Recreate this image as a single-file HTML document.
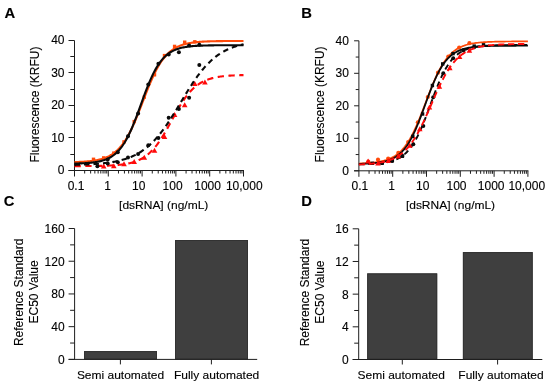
<!DOCTYPE html>
<html><head><meta charset="utf-8"><style>
html,body{margin:0;padding:0;background:#fff;width:550px;height:388px;overflow:hidden}
svg{display:block}
</style></head><body>
<svg width="550" height="388" viewBox="0 0 550 388">
<rect width="550" height="388" fill="#fff"/>
<g font-family='"Liberation Sans", Arial, sans-serif' fill="#000" stroke="#000" stroke-width="0.12">
<text x="4.60" y="18.00" text-anchor="start" font-size="14.8" font-weight="bold" >A</text>
<text x="301.20" y="18.00" text-anchor="start" font-size="14.8" font-weight="bold" >B</text>
<text x="3.80" y="206.30" text-anchor="start" font-size="14.8" font-weight="bold" >C</text>
<text x="301.20" y="205.80" text-anchor="start" font-size="14.8" font-weight="bold" >D</text>
<line x1="74.50" y1="40.50" x2="74.50" y2="170.50" stroke="#1e1e1e" stroke-width="1"/>
<line x1="68.50" y1="170.50" x2="244.00" y2="170.50" stroke="#1e1e1e" stroke-width="1"/>
<line x1="68.50" y1="170.50" x2="74.50" y2="170.50" stroke="#1e1e1e" stroke-width="1"/>
<line x1="70.30" y1="154.50" x2="74.50" y2="154.50" stroke="#1e1e1e" stroke-width="1"/>
<line x1="68.50" y1="137.50" x2="74.50" y2="137.50" stroke="#1e1e1e" stroke-width="1"/>
<line x1="70.30" y1="121.50" x2="74.50" y2="121.50" stroke="#1e1e1e" stroke-width="1"/>
<line x1="68.50" y1="105.50" x2="74.50" y2="105.50" stroke="#1e1e1e" stroke-width="1"/>
<line x1="70.30" y1="89.50" x2="74.50" y2="89.50" stroke="#1e1e1e" stroke-width="1"/>
<line x1="68.50" y1="72.50" x2="74.50" y2="72.50" stroke="#1e1e1e" stroke-width="1"/>
<line x1="70.30" y1="56.50" x2="74.50" y2="56.50" stroke="#1e1e1e" stroke-width="1"/>
<line x1="68.50" y1="40.50" x2="74.50" y2="40.50" stroke="#1e1e1e" stroke-width="1"/>
<line x1="74.50" y1="170.50" x2="74.50" y2="176.50" stroke="#1e1e1e" stroke-width="1"/>
<line x1="84.67" y1="170.50" x2="84.67" y2="173.50" stroke="#1e1e1e" stroke-width="1"/>
<line x1="90.63" y1="170.50" x2="90.63" y2="173.50" stroke="#1e1e1e" stroke-width="1"/>
<line x1="94.85" y1="170.50" x2="94.85" y2="173.50" stroke="#1e1e1e" stroke-width="1"/>
<line x1="98.13" y1="170.50" x2="98.13" y2="173.50" stroke="#1e1e1e" stroke-width="1"/>
<line x1="100.80" y1="170.50" x2="100.80" y2="173.50" stroke="#1e1e1e" stroke-width="1"/>
<line x1="103.06" y1="170.50" x2="103.06" y2="173.50" stroke="#1e1e1e" stroke-width="1"/>
<line x1="105.02" y1="170.50" x2="105.02" y2="173.50" stroke="#1e1e1e" stroke-width="1"/>
<line x1="106.75" y1="170.50" x2="106.75" y2="173.50" stroke="#1e1e1e" stroke-width="1"/>
<line x1="108.30" y1="170.50" x2="108.30" y2="176.50" stroke="#1e1e1e" stroke-width="1"/>
<line x1="118.47" y1="170.50" x2="118.47" y2="173.50" stroke="#1e1e1e" stroke-width="1"/>
<line x1="124.43" y1="170.50" x2="124.43" y2="173.50" stroke="#1e1e1e" stroke-width="1"/>
<line x1="128.65" y1="170.50" x2="128.65" y2="173.50" stroke="#1e1e1e" stroke-width="1"/>
<line x1="131.93" y1="170.50" x2="131.93" y2="173.50" stroke="#1e1e1e" stroke-width="1"/>
<line x1="134.60" y1="170.50" x2="134.60" y2="173.50" stroke="#1e1e1e" stroke-width="1"/>
<line x1="136.86" y1="170.50" x2="136.86" y2="173.50" stroke="#1e1e1e" stroke-width="1"/>
<line x1="138.82" y1="170.50" x2="138.82" y2="173.50" stroke="#1e1e1e" stroke-width="1"/>
<line x1="140.55" y1="170.50" x2="140.55" y2="173.50" stroke="#1e1e1e" stroke-width="1"/>
<line x1="142.10" y1="170.50" x2="142.10" y2="176.50" stroke="#1e1e1e" stroke-width="1"/>
<line x1="152.27" y1="170.50" x2="152.27" y2="173.50" stroke="#1e1e1e" stroke-width="1"/>
<line x1="158.23" y1="170.50" x2="158.23" y2="173.50" stroke="#1e1e1e" stroke-width="1"/>
<line x1="162.45" y1="170.50" x2="162.45" y2="173.50" stroke="#1e1e1e" stroke-width="1"/>
<line x1="165.73" y1="170.50" x2="165.73" y2="173.50" stroke="#1e1e1e" stroke-width="1"/>
<line x1="168.40" y1="170.50" x2="168.40" y2="173.50" stroke="#1e1e1e" stroke-width="1"/>
<line x1="170.66" y1="170.50" x2="170.66" y2="173.50" stroke="#1e1e1e" stroke-width="1"/>
<line x1="172.62" y1="170.50" x2="172.62" y2="173.50" stroke="#1e1e1e" stroke-width="1"/>
<line x1="174.35" y1="170.50" x2="174.35" y2="173.50" stroke="#1e1e1e" stroke-width="1"/>
<line x1="175.90" y1="170.50" x2="175.90" y2="176.50" stroke="#1e1e1e" stroke-width="1"/>
<line x1="186.07" y1="170.50" x2="186.07" y2="173.50" stroke="#1e1e1e" stroke-width="1"/>
<line x1="192.03" y1="170.50" x2="192.03" y2="173.50" stroke="#1e1e1e" stroke-width="1"/>
<line x1="196.25" y1="170.50" x2="196.25" y2="173.50" stroke="#1e1e1e" stroke-width="1"/>
<line x1="199.53" y1="170.50" x2="199.53" y2="173.50" stroke="#1e1e1e" stroke-width="1"/>
<line x1="202.20" y1="170.50" x2="202.20" y2="173.50" stroke="#1e1e1e" stroke-width="1"/>
<line x1="204.46" y1="170.50" x2="204.46" y2="173.50" stroke="#1e1e1e" stroke-width="1"/>
<line x1="206.42" y1="170.50" x2="206.42" y2="173.50" stroke="#1e1e1e" stroke-width="1"/>
<line x1="208.15" y1="170.50" x2="208.15" y2="173.50" stroke="#1e1e1e" stroke-width="1"/>
<line x1="209.70" y1="170.50" x2="209.70" y2="176.50" stroke="#1e1e1e" stroke-width="1"/>
<line x1="219.87" y1="170.50" x2="219.87" y2="173.50" stroke="#1e1e1e" stroke-width="1"/>
<line x1="225.83" y1="170.50" x2="225.83" y2="173.50" stroke="#1e1e1e" stroke-width="1"/>
<line x1="230.05" y1="170.50" x2="230.05" y2="173.50" stroke="#1e1e1e" stroke-width="1"/>
<line x1="233.33" y1="170.50" x2="233.33" y2="173.50" stroke="#1e1e1e" stroke-width="1"/>
<line x1="236.00" y1="170.50" x2="236.00" y2="173.50" stroke="#1e1e1e" stroke-width="1"/>
<line x1="238.26" y1="170.50" x2="238.26" y2="173.50" stroke="#1e1e1e" stroke-width="1"/>
<line x1="240.22" y1="170.50" x2="240.22" y2="173.50" stroke="#1e1e1e" stroke-width="1"/>
<line x1="241.95" y1="170.50" x2="241.95" y2="173.50" stroke="#1e1e1e" stroke-width="1"/>
<line x1="243.50" y1="170.50" x2="243.50" y2="176.50" stroke="#1e1e1e" stroke-width="1"/>
<text x="64.50" y="174.20" text-anchor="end" font-size="12" font-weight="normal" >0</text>
<text x="64.50" y="141.70" text-anchor="end" font-size="12" font-weight="normal" >10</text>
<text x="64.50" y="109.20" text-anchor="end" font-size="12" font-weight="normal" >20</text>
<text x="64.50" y="76.70" text-anchor="end" font-size="12" font-weight="normal" >30</text>
<text x="64.50" y="44.20" text-anchor="end" font-size="12" font-weight="normal" >40</text>
<text x="76.00" y="189.50" text-anchor="middle" font-size="12" font-weight="normal" >0.1</text>
<text x="107.70" y="189.50" text-anchor="middle" font-size="12" font-weight="normal" >1</text>
<text x="138.80" y="189.50" text-anchor="middle" font-size="12" font-weight="normal" >10</text>
<text x="172.60" y="189.50" text-anchor="middle" font-size="12" font-weight="normal" >100</text>
<text x="207.60" y="189.50" text-anchor="middle" font-size="12" font-weight="normal" >1000</text>
<text x="244.30" y="189.50" text-anchor="middle" font-size="12" font-weight="normal" >10,000</text>
<text x="0" y="0" transform="translate(163.70,208.80) scale(1.0526,1)" text-anchor="middle" font-size="11.4" >[dsRNA] (ng/mL)</text>
<text x="0" y="0" text-anchor="middle" font-size="12" transform="translate(39.00,104.60) rotate(-90)">Fluorescence (KRFU)</text>
<line x1="358.90" y1="40.80" x2="358.90" y2="170.80" stroke="#1e1e1e" stroke-width="1"/>
<line x1="354.10" y1="170.80" x2="528.40" y2="170.80" stroke="#1e1e1e" stroke-width="1"/>
<line x1="354.10" y1="170.80" x2="358.90" y2="170.80" stroke="#1e1e1e" stroke-width="1"/>
<line x1="355.70" y1="154.55" x2="358.90" y2="154.55" stroke="#1e1e1e" stroke-width="1"/>
<line x1="354.10" y1="138.30" x2="358.90" y2="138.30" stroke="#1e1e1e" stroke-width="1"/>
<line x1="355.70" y1="122.05" x2="358.90" y2="122.05" stroke="#1e1e1e" stroke-width="1"/>
<line x1="354.10" y1="105.80" x2="358.90" y2="105.80" stroke="#1e1e1e" stroke-width="1"/>
<line x1="355.70" y1="89.55" x2="358.90" y2="89.55" stroke="#1e1e1e" stroke-width="1"/>
<line x1="354.10" y1="73.30" x2="358.90" y2="73.30" stroke="#1e1e1e" stroke-width="1"/>
<line x1="355.70" y1="57.05" x2="358.90" y2="57.05" stroke="#1e1e1e" stroke-width="1"/>
<line x1="354.10" y1="40.80" x2="358.90" y2="40.80" stroke="#1e1e1e" stroke-width="1"/>
<line x1="358.90" y1="170.80" x2="358.90" y2="176.80" stroke="#1e1e1e" stroke-width="1"/>
<line x1="369.07" y1="170.80" x2="369.07" y2="173.80" stroke="#1e1e1e" stroke-width="1"/>
<line x1="375.03" y1="170.80" x2="375.03" y2="173.80" stroke="#1e1e1e" stroke-width="1"/>
<line x1="379.25" y1="170.80" x2="379.25" y2="173.80" stroke="#1e1e1e" stroke-width="1"/>
<line x1="382.53" y1="170.80" x2="382.53" y2="173.80" stroke="#1e1e1e" stroke-width="1"/>
<line x1="385.20" y1="170.80" x2="385.20" y2="173.80" stroke="#1e1e1e" stroke-width="1"/>
<line x1="387.46" y1="170.80" x2="387.46" y2="173.80" stroke="#1e1e1e" stroke-width="1"/>
<line x1="389.42" y1="170.80" x2="389.42" y2="173.80" stroke="#1e1e1e" stroke-width="1"/>
<line x1="391.15" y1="170.80" x2="391.15" y2="173.80" stroke="#1e1e1e" stroke-width="1"/>
<line x1="392.70" y1="170.80" x2="392.70" y2="176.80" stroke="#1e1e1e" stroke-width="1"/>
<line x1="402.87" y1="170.80" x2="402.87" y2="173.80" stroke="#1e1e1e" stroke-width="1"/>
<line x1="408.83" y1="170.80" x2="408.83" y2="173.80" stroke="#1e1e1e" stroke-width="1"/>
<line x1="413.05" y1="170.80" x2="413.05" y2="173.80" stroke="#1e1e1e" stroke-width="1"/>
<line x1="416.33" y1="170.80" x2="416.33" y2="173.80" stroke="#1e1e1e" stroke-width="1"/>
<line x1="419.00" y1="170.80" x2="419.00" y2="173.80" stroke="#1e1e1e" stroke-width="1"/>
<line x1="421.26" y1="170.80" x2="421.26" y2="173.80" stroke="#1e1e1e" stroke-width="1"/>
<line x1="423.22" y1="170.80" x2="423.22" y2="173.80" stroke="#1e1e1e" stroke-width="1"/>
<line x1="424.95" y1="170.80" x2="424.95" y2="173.80" stroke="#1e1e1e" stroke-width="1"/>
<line x1="426.50" y1="170.80" x2="426.50" y2="176.80" stroke="#1e1e1e" stroke-width="1"/>
<line x1="436.67" y1="170.80" x2="436.67" y2="173.80" stroke="#1e1e1e" stroke-width="1"/>
<line x1="442.63" y1="170.80" x2="442.63" y2="173.80" stroke="#1e1e1e" stroke-width="1"/>
<line x1="446.85" y1="170.80" x2="446.85" y2="173.80" stroke="#1e1e1e" stroke-width="1"/>
<line x1="450.13" y1="170.80" x2="450.13" y2="173.80" stroke="#1e1e1e" stroke-width="1"/>
<line x1="452.80" y1="170.80" x2="452.80" y2="173.80" stroke="#1e1e1e" stroke-width="1"/>
<line x1="455.06" y1="170.80" x2="455.06" y2="173.80" stroke="#1e1e1e" stroke-width="1"/>
<line x1="457.02" y1="170.80" x2="457.02" y2="173.80" stroke="#1e1e1e" stroke-width="1"/>
<line x1="458.75" y1="170.80" x2="458.75" y2="173.80" stroke="#1e1e1e" stroke-width="1"/>
<line x1="460.30" y1="170.80" x2="460.30" y2="176.80" stroke="#1e1e1e" stroke-width="1"/>
<line x1="470.47" y1="170.80" x2="470.47" y2="173.80" stroke="#1e1e1e" stroke-width="1"/>
<line x1="476.43" y1="170.80" x2="476.43" y2="173.80" stroke="#1e1e1e" stroke-width="1"/>
<line x1="480.65" y1="170.80" x2="480.65" y2="173.80" stroke="#1e1e1e" stroke-width="1"/>
<line x1="483.93" y1="170.80" x2="483.93" y2="173.80" stroke="#1e1e1e" stroke-width="1"/>
<line x1="486.60" y1="170.80" x2="486.60" y2="173.80" stroke="#1e1e1e" stroke-width="1"/>
<line x1="488.86" y1="170.80" x2="488.86" y2="173.80" stroke="#1e1e1e" stroke-width="1"/>
<line x1="490.82" y1="170.80" x2="490.82" y2="173.80" stroke="#1e1e1e" stroke-width="1"/>
<line x1="492.55" y1="170.80" x2="492.55" y2="173.80" stroke="#1e1e1e" stroke-width="1"/>
<line x1="494.10" y1="170.80" x2="494.10" y2="176.80" stroke="#1e1e1e" stroke-width="1"/>
<line x1="504.27" y1="170.80" x2="504.27" y2="173.80" stroke="#1e1e1e" stroke-width="1"/>
<line x1="510.23" y1="170.80" x2="510.23" y2="173.80" stroke="#1e1e1e" stroke-width="1"/>
<line x1="514.45" y1="170.80" x2="514.45" y2="173.80" stroke="#1e1e1e" stroke-width="1"/>
<line x1="517.73" y1="170.80" x2="517.73" y2="173.80" stroke="#1e1e1e" stroke-width="1"/>
<line x1="520.40" y1="170.80" x2="520.40" y2="173.80" stroke="#1e1e1e" stroke-width="1"/>
<line x1="522.66" y1="170.80" x2="522.66" y2="173.80" stroke="#1e1e1e" stroke-width="1"/>
<line x1="524.62" y1="170.80" x2="524.62" y2="173.80" stroke="#1e1e1e" stroke-width="1"/>
<line x1="526.35" y1="170.80" x2="526.35" y2="173.80" stroke="#1e1e1e" stroke-width="1"/>
<line x1="527.90" y1="170.80" x2="527.90" y2="176.80" stroke="#1e1e1e" stroke-width="1"/>
<text x="348.90" y="174.50" text-anchor="end" font-size="12" font-weight="normal" >0</text>
<text x="348.90" y="142.00" text-anchor="end" font-size="12" font-weight="normal" >10</text>
<text x="348.90" y="109.50" text-anchor="end" font-size="12" font-weight="normal" >20</text>
<text x="348.90" y="77.00" text-anchor="end" font-size="12" font-weight="normal" >30</text>
<text x="348.90" y="44.50" text-anchor="end" font-size="12" font-weight="normal" >40</text>
<text x="359.80" y="189.80" text-anchor="middle" font-size="12" font-weight="normal" >0.1</text>
<text x="391.60" y="189.80" text-anchor="middle" font-size="12" font-weight="normal" >1</text>
<text x="422.80" y="189.80" text-anchor="middle" font-size="12" font-weight="normal" >10</text>
<text x="456.50" y="189.80" text-anchor="middle" font-size="12" font-weight="normal" >100</text>
<text x="491.20" y="189.80" text-anchor="middle" font-size="12" font-weight="normal" >1000</text>
<text x="526.80" y="189.80" text-anchor="middle" font-size="12" font-weight="normal" >10,000</text>
<text x="0" y="0" transform="translate(450.50,209.10) scale(1.0526,1)" text-anchor="middle" font-size="11.4" >[dsRNA] (ng/mL)</text>
<text x="0" y="0" text-anchor="middle" font-size="12" transform="translate(324.20,104.40) rotate(-90)">Fluorescence (KRFU)</text>
<rect x="84.00" y="351.10" width="73.00" height="8.30" fill="#3f3f3f" stroke="none"/>
<rect x="84.50" y="351.60" width="72.00" height="7.30" fill="none" stroke="#323232" stroke-width="1"/>
<rect x="175.00" y="240.00" width="73.00" height="119.40" fill="#3f3f3f" stroke="none"/>
<rect x="175.50" y="240.50" width="72.00" height="118.40" fill="none" stroke="#323232" stroke-width="1"/>
<line x1="74.60" y1="228.50" x2="74.60" y2="359.40" stroke="#1e1e1e" stroke-width="1"/>
<line x1="68.60" y1="359.40" x2="257.20" y2="359.40" stroke="#1e1e1e" stroke-width="1"/>
<line x1="68.60" y1="359.40" x2="74.60" y2="359.40" stroke="#1e1e1e" stroke-width="1"/>
<text x="64.60" y="363.90" text-anchor="end" font-size="12" font-weight="normal" >0</text>
<line x1="70.10" y1="343.04" x2="74.60" y2="343.04" stroke="#1e1e1e" stroke-width="1"/>
<line x1="68.60" y1="326.67" x2="74.60" y2="326.67" stroke="#1e1e1e" stroke-width="1"/>
<text x="64.60" y="331.17" text-anchor="end" font-size="12" font-weight="normal" >40</text>
<line x1="70.10" y1="310.31" x2="74.60" y2="310.31" stroke="#1e1e1e" stroke-width="1"/>
<line x1="68.60" y1="293.95" x2="74.60" y2="293.95" stroke="#1e1e1e" stroke-width="1"/>
<text x="64.60" y="298.45" text-anchor="end" font-size="12" font-weight="normal" >80</text>
<line x1="70.10" y1="277.59" x2="74.60" y2="277.59" stroke="#1e1e1e" stroke-width="1"/>
<line x1="68.60" y1="261.23" x2="74.60" y2="261.23" stroke="#1e1e1e" stroke-width="1"/>
<text x="64.60" y="265.73" text-anchor="end" font-size="12" font-weight="normal" >120</text>
<line x1="70.10" y1="244.86" x2="74.60" y2="244.86" stroke="#1e1e1e" stroke-width="1"/>
<line x1="68.60" y1="228.50" x2="74.60" y2="228.50" stroke="#1e1e1e" stroke-width="1"/>
<text x="64.60" y="233.00" text-anchor="end" font-size="12" font-weight="normal" >160</text>
<line x1="120.40" y1="359.40" x2="120.40" y2="364.40" stroke="#1e1e1e" stroke-width="1"/>
<line x1="211.40" y1="359.40" x2="211.40" y2="364.40" stroke="#1e1e1e" stroke-width="1"/>
<text x="0" y="0" transform="translate(120.50,378.70) scale(1.0526,1)" text-anchor="middle" font-size="11.4" >Semi automated</text>
<text x="0" y="0" transform="translate(216.60,378.70) scale(1.0526,1)" text-anchor="middle" font-size="11.4" >Fully automated</text>
<rect x="367.20" y="273.40" width="70.00" height="86.10" fill="#3f3f3f" stroke="none"/>
<rect x="367.70" y="273.90" width="69.00" height="85.10" fill="none" stroke="#323232" stroke-width="1"/>
<rect x="462.90" y="252.10" width="69.80" height="107.40" fill="#3f3f3f" stroke="none"/>
<rect x="463.40" y="252.60" width="68.80" height="106.40" fill="none" stroke="#323232" stroke-width="1"/>
<line x1="358.70" y1="228.80" x2="358.70" y2="359.50" stroke="#1e1e1e" stroke-width="1"/>
<line x1="352.70" y1="359.50" x2="542.30" y2="359.50" stroke="#1e1e1e" stroke-width="1"/>
<line x1="352.70" y1="359.50" x2="358.70" y2="359.50" stroke="#1e1e1e" stroke-width="1"/>
<text x="348.70" y="364.00" text-anchor="end" font-size="12" font-weight="normal" >0</text>
<line x1="354.20" y1="343.16" x2="358.70" y2="343.16" stroke="#1e1e1e" stroke-width="1"/>
<line x1="352.70" y1="326.82" x2="358.70" y2="326.82" stroke="#1e1e1e" stroke-width="1"/>
<text x="348.70" y="331.32" text-anchor="end" font-size="12" font-weight="normal" >4</text>
<line x1="354.20" y1="310.49" x2="358.70" y2="310.49" stroke="#1e1e1e" stroke-width="1"/>
<line x1="352.70" y1="294.15" x2="358.70" y2="294.15" stroke="#1e1e1e" stroke-width="1"/>
<text x="348.70" y="298.65" text-anchor="end" font-size="12" font-weight="normal" >8</text>
<line x1="354.20" y1="277.81" x2="358.70" y2="277.81" stroke="#1e1e1e" stroke-width="1"/>
<line x1="352.70" y1="261.48" x2="358.70" y2="261.48" stroke="#1e1e1e" stroke-width="1"/>
<text x="348.70" y="265.98" text-anchor="end" font-size="12" font-weight="normal" >12</text>
<line x1="354.20" y1="245.14" x2="358.70" y2="245.14" stroke="#1e1e1e" stroke-width="1"/>
<line x1="352.70" y1="228.80" x2="358.70" y2="228.80" stroke="#1e1e1e" stroke-width="1"/>
<text x="348.70" y="233.30" text-anchor="end" font-size="12" font-weight="normal" >16</text>
<line x1="402.30" y1="359.50" x2="402.30" y2="364.50" stroke="#1e1e1e" stroke-width="1"/>
<line x1="497.60" y1="359.50" x2="497.60" y2="364.50" stroke="#1e1e1e" stroke-width="1"/>
<text x="0" y="0" transform="translate(401.20,378.80) scale(1.0526,1)" text-anchor="middle" font-size="11.4" >Semi automated</text>
<text x="0" y="0" transform="translate(501.00,378.80) scale(1.0526,1)" text-anchor="middle" font-size="11.4" >Fully automated</text>
<text x="0" y="0" text-anchor="middle" font-size="12" transform="translate(23.30,292.40) rotate(-90)">Reference Standard</text>
<text x="0" y="0" text-anchor="middle" font-size="12" transform="translate(38.30,291.90) rotate(-90)">EC50 Value</text>
<text x="0" y="0" text-anchor="middle" font-size="12" transform="translate(309.00,292.60) rotate(-90)">Reference Standard</text>
<text x="0" y="0" text-anchor="middle" font-size="12" transform="translate(323.90,292.10) rotate(-90)">EC50 Value</text>
</g>
<path d="M74.50,162.08 L75.50,162.05 L76.50,162.02 L77.50,161.98 L78.50,161.94 L79.50,161.90 L80.50,161.85 L81.50,161.80 L82.50,161.75 L83.50,161.69 L84.50,161.62 L85.50,161.55 L86.50,161.47 L87.50,161.38 L88.50,161.29 L89.50,161.19 L90.50,161.08 L91.50,160.96 L92.50,160.83 L93.50,160.69 L94.50,160.53 L95.50,160.37 L96.50,160.19 L97.50,159.99 L98.50,159.77 L99.50,159.54 L100.50,159.29 L101.50,159.02 L102.50,158.72 L103.50,158.40 L104.50,158.05 L105.50,157.67 L106.50,157.26 L107.50,156.82 L108.50,156.34 L109.50,155.83 L110.50,155.27 L111.50,154.67 L112.50,154.02 L113.50,153.33 L114.50,152.58 L115.50,151.77 L116.50,150.91 L117.50,149.98 L118.50,148.99 L119.50,147.93 L120.50,146.79 L121.50,145.59 L122.50,144.30 L123.50,142.94 L124.50,141.49 L125.50,139.96 L126.50,138.35 L127.50,136.65 L128.50,134.86 L129.50,132.99 L130.50,131.03 L131.50,128.99 L132.50,126.88 L133.50,124.68 L134.50,122.41 L135.50,120.07 L136.50,117.68 L137.50,115.22 L138.50,112.72 L139.50,110.18 L140.50,107.61 L141.50,105.02 L142.50,102.42 L143.50,99.81 L144.50,97.21 L145.50,94.63 L146.50,92.07 L147.50,89.55 L148.50,87.07 L149.50,84.64 L150.50,82.27 L151.50,79.96 L152.50,77.73 L153.50,75.56 L154.50,73.48 L155.50,71.47 L156.50,69.56 L157.50,67.72 L158.50,65.97 L159.50,64.31 L160.50,62.73 L161.50,61.24 L162.50,59.83 L163.50,58.50 L164.50,57.25 L165.50,56.08 L166.50,54.98 L167.50,53.95 L168.50,52.98 L169.50,52.08 L170.50,51.25 L171.50,50.47 L172.50,49.74 L173.50,49.07 L174.50,48.44 L175.50,47.86 L176.50,47.32 L177.50,46.82 L178.50,46.36 L179.50,45.93 L180.50,45.54 L181.50,45.17 L182.50,44.84 L183.50,44.53 L184.50,44.24 L185.50,43.98 L186.50,43.73 L187.50,43.51 L188.50,43.30 L189.50,43.11 L190.50,42.94 L191.50,42.78 L192.50,42.63 L193.50,42.49 L194.50,42.37 L195.50,42.25 L196.50,42.15 L197.50,42.05 L198.50,41.96 L199.50,41.88 L200.50,41.80 L201.50,41.73 L202.50,41.67 L203.50,41.61 L204.50,41.55 L205.50,41.51 L206.50,41.46 L207.50,41.42 L208.50,41.38 L209.50,41.34 L210.50,41.31 L211.50,41.28 L212.50,41.26 L213.50,41.23 L214.50,41.21 L215.50,41.19 L216.50,41.17 L217.50,41.15 L218.50,41.13 L219.50,41.12 L220.50,41.10 L221.50,41.09 L222.50,41.08 L223.50,41.07 L224.50,41.06 L225.50,41.05 L226.50,41.04 L227.50,41.03 L228.50,41.03 L229.50,41.02 L230.50,41.02 L231.50,41.01 L232.50,41.00 L233.50,41.00 L234.50,41.00 L235.50,40.99 L236.50,40.99 L237.50,40.99 L238.50,40.98 L239.50,40.98 L240.50,40.98 L241.50,40.98 L242.50,40.97 L243.50,40.97" fill="none" stroke="#ff4a0a" stroke-width="2.1"/>
<rect x="91.80" y="157.60" width="3.4" height="3.4" fill="#ff4a0a"/>
<rect x="102.00" y="156.20" width="3.4" height="3.4" fill="#ff4a0a"/>
<rect x="112.10" y="151.41" width="3.4" height="3.4" fill="#ff4a0a"/>
<rect x="122.30" y="140.20" width="3.4" height="3.4" fill="#ff4a0a"/>
<rect x="132.50" y="119.90" width="3.4" height="3.4" fill="#ff4a0a"/>
<rect x="142.60" y="95.40" width="3.4" height="3.4" fill="#ff4a0a"/>
<rect x="152.80" y="73.10" width="3.4" height="3.4" fill="#ff4a0a"/>
<rect x="162.80" y="53.90" width="3.4" height="3.4" fill="#ff4a0a"/>
<rect x="172.90" y="44.70" width="3.4" height="3.4" fill="#ff4a0a"/>
<rect x="183.00" y="40.50" width="3.4" height="3.4" fill="#ff4a0a"/>
<rect x="193.10" y="40.10" width="3.4" height="3.4" fill="#ff4a0a"/>
<path d="M74.50,163.56 L75.50,163.54 L76.50,163.51 L77.50,163.48 L78.50,163.45 L79.50,163.42 L80.50,163.38 L81.50,163.34 L82.50,163.29 L83.50,163.24 L84.50,163.19 L85.50,163.13 L86.50,163.06 L87.50,162.99 L88.50,162.92 L89.50,162.83 L90.50,162.74 L91.50,162.63 L92.50,162.52 L93.50,162.40 L94.50,162.26 L95.50,162.11 L96.50,161.95 L97.50,161.77 L98.50,161.58 L99.50,161.36 L100.50,161.13 L101.50,160.87 L102.50,160.60 L103.50,160.29 L104.50,159.96 L105.50,159.60 L106.50,159.20 L107.50,158.77 L108.50,158.30 L109.50,157.79 L110.50,157.24 L111.50,156.63 L112.50,155.98 L113.50,155.27 L114.50,154.50 L115.50,153.67 L116.50,152.77 L117.50,151.80 L118.50,150.75 L119.50,149.63 L120.50,148.42 L121.50,147.13 L122.50,145.75 L123.50,144.27 L124.50,142.70 L125.50,141.03 L126.50,139.27 L127.50,137.40 L128.50,135.44 L129.50,133.37 L130.50,131.21 L131.50,128.96 L132.50,126.62 L133.50,124.20 L134.50,121.70 L135.50,119.13 L136.50,116.51 L137.50,113.83 L138.50,111.11 L139.50,108.37 L140.50,105.61 L141.50,102.84 L142.50,100.08 L143.50,97.34 L144.50,94.63 L145.50,91.96 L146.50,89.35 L147.50,86.79 L148.50,84.31 L149.50,81.90 L150.50,79.58 L151.50,77.35 L152.50,75.21 L153.50,73.16 L154.50,71.22 L155.50,69.37 L156.50,67.63 L157.50,65.98 L158.50,64.43 L159.50,62.97 L160.50,61.61 L161.50,60.33 L162.50,59.14 L163.50,58.03 L164.50,57.00 L165.50,56.05 L166.50,55.16 L167.50,54.34 L168.50,53.59 L169.50,52.89 L170.50,52.24 L171.50,51.65 L172.50,51.10 L173.50,50.60 L174.50,50.14 L175.50,49.72 L176.50,49.33 L177.50,48.97 L178.50,48.65 L179.50,48.35 L180.50,48.07 L181.50,47.82 L182.50,47.59 L183.50,47.38 L184.50,47.19 L185.50,47.02 L186.50,46.86 L187.50,46.71 L188.50,46.58 L189.50,46.46 L190.50,46.35 L191.50,46.25 L192.50,46.15 L193.50,46.07 L194.50,45.99 L195.50,45.92 L196.50,45.86 L197.50,45.80 L198.50,45.75 L199.50,45.70 L200.50,45.65 L201.50,45.61 L202.50,45.58 L203.50,45.54 L204.50,45.51 L205.50,45.48 L206.50,45.46 L207.50,45.44 L208.50,45.42 L209.50,45.40 L210.50,45.38 L211.50,45.36 L212.50,45.35 L213.50,45.34 L214.50,45.32 L215.50,45.31 L216.50,45.30 L217.50,45.29 L218.50,45.28 L219.50,45.28 L220.50,45.27 L221.50,45.26 L222.50,45.26 L223.50,45.25 L224.50,45.25 L225.50,45.24 L226.50,45.24 L227.50,45.24 L228.50,45.23 L229.50,45.23 L230.50,45.23 L231.50,45.23 L232.50,45.22 L233.50,45.22 L234.50,45.22 L235.50,45.22 L236.50,45.22 L237.50,45.21 L238.50,45.21 L239.50,45.21 L240.50,45.21 L241.50,45.21 L242.50,45.21 L243.50,45.21" fill="none" stroke="#0a0a0a" stroke-width="2.1"/>
<circle cx="107.70" cy="159.60" r="2.0" fill="#0a0a0a"/>
<circle cx="117.80" cy="152.30" r="2.0" fill="#0a0a0a"/>
<circle cx="128.00" cy="136.30" r="2.0" fill="#0a0a0a"/>
<circle cx="138.10" cy="113.40" r="2.0" fill="#0a0a0a"/>
<circle cx="148.30" cy="84.50" r="2.0" fill="#0a0a0a"/>
<circle cx="158.40" cy="63.70" r="2.0" fill="#0a0a0a"/>
<circle cx="168.70" cy="54.50" r="2.0" fill="#0a0a0a"/>
<circle cx="178.90" cy="52.20" r="2.0" fill="#0a0a0a"/>
<circle cx="189.10" cy="45.50" r="2.0" fill="#0a0a0a"/>
<circle cx="199.30" cy="44.80" r="2.0" fill="#0a0a0a"/>
<path d="M74.50,166.11 L75.50,166.11 L76.50,166.11 L77.50,166.10 L78.50,166.10 L79.50,166.09 L80.50,166.09 L81.50,166.09 L82.50,166.08 L83.50,166.07 L84.50,166.07 L85.50,166.06 L86.50,166.05 L87.50,166.05 L88.50,166.04 L89.50,166.03 L90.50,166.02 L91.50,166.01 L92.50,165.99 L93.50,165.98 L94.50,165.97 L95.50,165.95 L96.50,165.93 L97.50,165.92 L98.50,165.90 L99.50,165.88 L100.50,165.85 L101.50,165.83 L102.50,165.80 L103.50,165.77 L104.50,165.74 L105.50,165.71 L106.50,165.67 L107.50,165.63 L108.50,165.59 L109.50,165.54 L110.50,165.49 L111.50,165.43 L112.50,165.37 L113.50,165.31 L114.50,165.24 L115.50,165.16 L116.50,165.08 L117.50,164.99 L118.50,164.90 L119.50,164.80 L120.50,164.68 L121.50,164.56 L122.50,164.43 L123.50,164.29 L124.50,164.14 L125.50,163.98 L126.50,163.80 L127.50,163.61 L128.50,163.40 L129.50,163.18 L130.50,162.94 L131.50,162.68 L132.50,162.40 L133.50,162.10 L134.50,161.78 L135.50,161.43 L136.50,161.06 L137.50,160.66 L138.50,160.23 L139.50,159.77 L140.50,159.27 L141.50,158.74 L142.50,158.18 L143.50,157.57 L144.50,156.93 L145.50,156.24 L146.50,155.51 L147.50,154.73 L148.50,153.90 L149.50,153.02 L150.50,152.09 L151.50,151.11 L152.50,150.07 L153.50,148.98 L154.50,147.83 L155.50,146.62 L156.50,145.36 L157.50,144.04 L158.50,142.66 L159.50,141.23 L160.50,139.75 L161.50,138.22 L162.50,136.63 L163.50,135.01 L164.50,133.34 L165.50,131.63 L166.50,129.88 L167.50,128.11 L168.50,126.32 L169.50,124.50 L170.50,122.68 L171.50,120.84 L172.50,119.01 L173.50,117.18 L174.50,115.36 L175.50,113.55 L176.50,111.77 L177.50,110.02 L178.50,108.29 L179.50,106.61 L180.50,104.96 L181.50,103.36 L182.50,101.81 L183.50,100.30 L184.50,98.85 L185.50,97.45 L186.50,96.11 L187.50,94.83 L188.50,93.60 L189.50,92.43 L190.50,91.31 L191.50,90.25 L192.50,89.25 L193.50,88.30 L194.50,87.40 L195.50,86.55 L196.50,85.75 L197.50,85.00 L198.50,84.29 L199.50,83.63 L200.50,83.01 L201.50,82.43 L202.50,81.89 L203.50,81.38 L204.50,80.90 L205.50,80.46 L206.50,80.05 L207.50,79.67 L208.50,79.31 L209.50,78.98 L210.50,78.67 L211.50,78.38 L212.50,78.11 L213.50,77.87 L214.50,77.64 L215.50,77.42 L216.50,77.23 L217.50,77.04 L218.50,76.87 L219.50,76.72 L220.50,76.57 L221.50,76.44 L222.50,76.31 L223.50,76.20 L224.50,76.09 L225.50,75.99 L226.50,75.90 L227.50,75.82 L228.50,75.74 L229.50,75.67 L230.50,75.60 L231.50,75.54 L232.50,75.48 L233.50,75.43 L234.50,75.38 L235.50,75.34 L236.50,75.30 L237.50,75.26 L238.50,75.22 L239.50,75.19 L240.50,75.16 L241.50,75.13 L242.50,75.11 L243.50,75.08" fill="none" stroke="#ff0a0a" stroke-width="2.1" stroke-dasharray="6.3 4.5"/>
<polygon points="100.90,168.52 106.50,168.52 103.70,163.48" fill="#ff0a0a"/>
<polygon points="111.00,168.32 116.60,168.32 113.80,163.28" fill="#ff0a0a"/>
<polygon points="121.20,166.32 126.80,166.32 124.00,161.28" fill="#ff0a0a"/>
<polygon points="131.40,163.92 137.00,163.92 134.20,158.88" fill="#ff0a0a"/>
<polygon points="141.50,159.72 147.10,159.72 144.30,154.68" fill="#ff0a0a"/>
<polygon points="151.70,152.72 157.30,152.72 154.50,147.68" fill="#ff0a0a"/>
<polygon points="161.70,138.92 167.30,138.92 164.50,133.88" fill="#ff0a0a"/>
<polygon points="171.80,117.12 177.40,117.12 174.60,112.08" fill="#ff0a0a"/>
<polygon points="181.90,107.22 187.50,107.22 184.70,102.18" fill="#ff0a0a"/>
<polygon points="192.00,85.92 197.60,85.92 194.80,80.88" fill="#ff0a0a"/>
<polygon points="202.10,84.52 207.70,84.52 204.90,79.48" fill="#ff0a0a"/>
<path d="M74.50,164.86 L75.50,164.83 L76.50,164.81 L77.50,164.78 L78.50,164.75 L79.50,164.72 L80.50,164.69 L81.50,164.66 L82.50,164.62 L83.50,164.58 L84.50,164.55 L85.50,164.50 L86.50,164.46 L87.50,164.42 L88.50,164.37 L89.50,164.32 L90.50,164.26 L91.50,164.21 L92.50,164.15 L93.50,164.09 L94.50,164.02 L95.50,163.95 L96.50,163.88 L97.50,163.80 L98.50,163.72 L99.50,163.64 L100.50,163.55 L101.50,163.45 L102.50,163.35 L103.50,163.25 L104.50,163.14 L105.50,163.02 L106.50,162.90 L107.50,162.77 L108.50,162.64 L109.50,162.50 L110.50,162.35 L111.50,162.19 L112.50,162.03 L113.50,161.85 L114.50,161.67 L115.50,161.48 L116.50,161.28 L117.50,161.06 L118.50,160.84 L119.50,160.61 L120.50,160.36 L121.50,160.10 L122.50,159.83 L123.50,159.55 L124.50,159.25 L125.50,158.93 L126.50,158.60 L127.50,158.26 L128.50,157.90 L129.50,157.52 L130.50,157.12 L131.50,156.71 L132.50,156.27 L133.50,155.82 L134.50,155.34 L135.50,154.84 L136.50,154.32 L137.50,153.78 L138.50,153.21 L139.50,152.61 L140.50,152.00 L141.50,151.35 L142.50,150.68 L143.50,149.98 L144.50,149.25 L145.50,148.49 L146.50,147.70 L147.50,146.88 L148.50,146.03 L149.50,145.15 L150.50,144.23 L151.50,143.29 L152.50,142.30 L153.50,141.29 L154.50,140.24 L155.50,139.16 L156.50,138.04 L157.50,136.89 L158.50,135.71 L159.50,134.49 L160.50,133.24 L161.50,131.95 L162.50,130.64 L163.50,129.29 L164.50,127.91 L165.50,126.50 L166.50,125.06 L167.50,123.60 L168.50,122.11 L169.50,120.59 L170.50,119.05 L171.50,117.49 L172.50,115.91 L173.50,114.31 L174.50,112.69 L175.50,111.07 L176.50,109.43 L177.50,107.78 L178.50,106.12 L179.50,104.46 L180.50,102.79 L181.50,101.13 L182.50,99.46 L183.50,97.81 L184.50,96.15 L185.50,94.51 L186.50,92.88 L187.50,91.26 L188.50,89.66 L189.50,88.08 L190.50,86.51 L191.50,84.97 L192.50,83.44 L193.50,81.95 L194.50,80.48 L195.50,79.03 L196.50,77.62 L197.50,76.23 L198.50,74.88 L199.50,73.56 L200.50,72.27 L201.50,71.01 L202.50,69.78 L203.50,68.59 L204.50,67.43 L205.50,66.31 L206.50,65.22 L207.50,64.17 L208.50,63.15 L209.50,62.16 L210.50,61.20 L211.50,60.28 L212.50,59.39 L213.50,58.54 L214.50,57.71 L215.50,56.92 L216.50,56.15 L217.50,55.42 L218.50,54.71 L219.50,54.03 L220.50,53.38 L221.50,52.76 L222.50,52.16 L223.50,51.59 L224.50,51.04 L225.50,50.51 L226.50,50.01 L227.50,49.53 L228.50,49.07 L229.50,48.63 L230.50,48.21 L231.50,47.81 L232.50,47.43 L233.50,47.06 L234.50,46.71 L235.50,46.38 L236.50,46.07 L237.50,45.76 L238.50,45.48 L239.50,45.20 L240.50,44.94 L241.50,44.69 L242.50,44.46 L243.50,44.23" fill="none" stroke="#0a0a0a" stroke-width="2.1" stroke-dasharray="5.5 4"/>
<circle cx="97.40" cy="166.20" r="2.0" fill="#0a0a0a"/>
<circle cx="107.70" cy="163.50" r="2.0" fill="#0a0a0a"/>
<circle cx="117.80" cy="162.30" r="2.0" fill="#0a0a0a"/>
<circle cx="128.00" cy="157.50" r="2.0" fill="#0a0a0a"/>
<circle cx="138.10" cy="154.10" r="2.0" fill="#0a0a0a"/>
<circle cx="148.30" cy="145.30" r="2.0" fill="#0a0a0a"/>
<circle cx="158.40" cy="138.00" r="2.0" fill="#0a0a0a"/>
<circle cx="168.70" cy="117.80" r="2.0" fill="#0a0a0a"/>
<circle cx="178.90" cy="109.00" r="2.0" fill="#0a0a0a"/>
<circle cx="189.10" cy="97.80" r="2.0" fill="#0a0a0a"/>
<circle cx="199.30" cy="65.00" r="2.0" fill="#0a0a0a"/>
<path d="M358.90,163.51 L359.90,163.48 L360.90,163.44 L361.90,163.40 L362.90,163.35 L363.90,163.31 L364.90,163.25 L365.90,163.20 L366.90,163.13 L367.90,163.07 L368.90,162.99 L369.90,162.91 L370.90,162.82 L371.90,162.73 L372.90,162.63 L373.90,162.51 L374.90,162.39 L375.90,162.26 L376.90,162.11 L377.90,161.95 L378.90,161.78 L379.90,161.59 L380.90,161.39 L381.90,161.17 L382.90,160.93 L383.90,160.67 L384.90,160.38 L385.90,160.08 L386.90,159.74 L387.90,159.38 L388.90,158.99 L389.90,158.57 L390.90,158.11 L391.90,157.62 L392.90,157.08 L393.90,156.50 L394.90,155.88 L395.90,155.21 L396.90,154.48 L397.90,153.70 L398.90,152.86 L399.90,151.96 L400.90,151.00 L401.90,149.97 L402.90,148.86 L403.90,147.69 L404.90,146.43 L405.90,145.09 L406.90,143.68 L407.90,142.17 L408.90,140.58 L409.90,138.91 L410.90,137.14 L411.90,135.29 L412.90,133.35 L413.90,131.32 L414.90,129.21 L415.90,127.02 L416.90,124.76 L417.90,122.42 L418.90,120.01 L419.90,117.55 L420.90,115.03 L421.90,112.47 L422.90,109.87 L423.90,107.25 L424.90,104.60 L425.90,101.96 L426.90,99.31 L427.90,96.68 L428.90,94.06 L429.90,91.48 L430.90,88.94 L431.90,86.45 L432.90,84.02 L433.90,81.65 L434.90,79.34 L435.90,77.12 L436.90,74.97 L437.90,72.90 L438.90,70.92 L439.90,69.02 L440.90,67.22 L441.90,65.50 L442.90,63.87 L443.90,62.32 L444.90,60.87 L445.90,59.49 L446.90,58.20 L447.90,56.98 L448.90,55.84 L449.90,54.78 L450.90,53.78 L451.90,52.85 L452.90,51.98 L453.90,51.18 L454.90,50.43 L455.90,49.73 L456.90,49.08 L457.90,48.48 L458.90,47.93 L459.90,47.41 L460.90,46.94 L461.90,46.50 L462.90,46.09 L463.90,45.71 L464.90,45.37 L465.90,45.05 L466.90,44.76 L467.90,44.48 L468.90,44.23 L469.90,44.00 L470.90,43.79 L471.90,43.60 L472.90,43.42 L473.90,43.25 L474.90,43.10 L475.90,42.96 L476.90,42.84 L477.90,42.72 L478.90,42.61 L479.90,42.51 L480.90,42.42 L481.90,42.34 L482.90,42.26 L483.90,42.19 L484.90,42.12 L485.90,42.06 L486.90,42.01 L487.90,41.96 L488.90,41.91 L489.90,41.87 L490.90,41.83 L491.90,41.80 L492.90,41.76 L493.90,41.73 L494.90,41.71 L495.90,41.68 L496.90,41.66 L497.90,41.64 L498.90,41.62 L499.90,41.60 L500.90,41.58 L501.90,41.57 L502.90,41.55 L503.90,41.54 L504.90,41.53 L505.90,41.52 L506.90,41.51 L507.90,41.50 L508.90,41.49 L509.90,41.48 L510.90,41.48 L511.90,41.47 L512.90,41.46 L513.90,41.46 L514.90,41.45 L515.90,41.45 L516.90,41.45 L517.90,41.44 L518.90,41.44 L519.90,41.44 L520.90,41.43 L521.90,41.43 L522.90,41.43 L523.90,41.42 L524.90,41.42 L525.90,41.42 L526.90,41.42 L527.90,41.42" fill="none" stroke="#ff4a0a" stroke-width="1.7"/>
<circle cx="368.30" cy="161.60" r="2.1" fill="#ff4a0a"/>
<circle cx="378.00" cy="159.70" r="2.1" fill="#ff4a0a"/>
<circle cx="388.20" cy="158.60" r="2.1" fill="#ff4a0a"/>
<circle cx="398.30" cy="152.90" r="2.1" fill="#ff4a0a"/>
<circle cx="408.20" cy="142.00" r="2.1" fill="#ff4a0a"/>
<circle cx="417.90" cy="122.30" r="2.1" fill="#ff4a0a"/>
<circle cx="427.80" cy="97.00" r="2.1" fill="#ff4a0a"/>
<circle cx="438.00" cy="72.70" r="2.1" fill="#ff4a0a"/>
<circle cx="448.30" cy="56.60" r="2.1" fill="#ff4a0a"/>
<circle cx="459.20" cy="47.60" r="2.1" fill="#ff4a0a"/>
<circle cx="469.40" cy="43.20" r="2.1" fill="#ff4a0a"/>
<path d="M358.90,163.88 L359.90,163.86 L360.90,163.83 L361.90,163.80 L362.90,163.77 L363.90,163.73 L364.90,163.69 L365.90,163.65 L366.90,163.60 L367.90,163.55 L368.90,163.50 L369.90,163.43 L370.90,163.36 L371.90,163.29 L372.90,163.21 L373.90,163.12 L374.90,163.02 L375.90,162.91 L376.90,162.79 L377.90,162.67 L378.90,162.52 L379.90,162.37 L380.90,162.20 L381.90,162.02 L382.90,161.81 L383.90,161.59 L384.90,161.35 L385.90,161.09 L386.90,160.80 L387.90,160.49 L388.90,160.14 L389.90,159.77 L390.90,159.36 L391.90,158.92 L392.90,158.44 L393.90,157.91 L394.90,157.34 L395.90,156.73 L396.90,156.05 L397.90,155.33 L398.90,154.54 L399.90,153.69 L400.90,152.78 L401.90,151.79 L402.90,150.72 L403.90,149.58 L404.90,148.36 L405.90,147.05 L406.90,145.65 L407.90,144.15 L408.90,142.57 L409.90,140.88 L410.90,139.10 L411.90,137.22 L412.90,135.25 L413.90,133.18 L414.90,131.01 L415.90,128.76 L416.90,126.42 L417.90,124.00 L418.90,121.50 L419.90,118.94 L420.90,116.33 L421.90,113.66 L422.90,110.96 L423.90,108.24 L424.90,105.50 L425.90,102.75 L426.90,100.02 L427.90,97.31 L428.90,94.63 L429.90,91.99 L430.90,89.41 L431.90,86.88 L432.90,84.43 L433.90,82.06 L434.90,79.76 L435.90,77.56 L436.90,75.45 L437.90,73.43 L438.90,71.51 L439.90,69.69 L440.90,67.97 L441.90,66.34 L442.90,64.81 L443.90,63.37 L444.90,62.02 L445.90,60.76 L446.90,59.59 L447.90,58.49 L448.90,57.47 L449.90,56.52 L450.90,55.65 L451.90,54.83 L452.90,54.08 L453.90,53.39 L454.90,52.75 L455.90,52.16 L456.90,51.62 L457.90,51.12 L458.90,50.66 L459.90,50.24 L460.90,49.85 L461.90,49.49 L462.90,49.17 L463.90,48.87 L464.90,48.60 L465.90,48.35 L466.90,48.12 L467.90,47.91 L468.90,47.71 L469.90,47.54 L470.90,47.38 L471.90,47.23 L472.90,47.10 L473.90,46.98 L474.90,46.86 L475.90,46.76 L476.90,46.67 L477.90,46.58 L478.90,46.51 L479.90,46.43 L480.90,46.37 L481.90,46.31 L482.90,46.26 L483.90,46.21 L484.90,46.16 L485.90,46.12 L486.90,46.09 L487.90,46.05 L488.90,46.02 L489.90,45.99 L490.90,45.97 L491.90,45.94 L492.90,45.92 L493.90,45.90 L494.90,45.88 L495.90,45.87 L496.90,45.85 L497.90,45.84 L498.90,45.83 L499.90,45.82 L500.90,45.81 L501.90,45.80 L502.90,45.79 L503.90,45.78 L504.90,45.77 L505.90,45.77 L506.90,45.76 L507.90,45.76 L508.90,45.75 L509.90,45.75 L510.90,45.74 L511.90,45.74 L512.90,45.73 L513.90,45.73 L514.90,45.73 L515.90,45.73 L516.90,45.72 L517.90,45.72 L518.90,45.72 L519.90,45.72 L520.90,45.72 L521.90,45.72 L522.90,45.71 L523.90,45.71 L524.90,45.71 L525.90,45.71 L526.90,45.71 L527.90,45.71" fill="none" stroke="#0a0a0a" stroke-width="1.8"/>
<rect x="370.60" y="161.56" width="3.4" height="3.4" fill="#0a0a0a"/>
<rect x="380.40" y="161.50" width="3.4" height="3.4" fill="#0a0a0a"/>
<rect x="390.50" y="158.90" width="3.4" height="3.4" fill="#0a0a0a"/>
<rect x="400.70" y="154.50" width="3.4" height="3.4" fill="#0a0a0a"/>
<rect x="411.10" y="134.70" width="3.4" height="3.4" fill="#0a0a0a"/>
<rect x="420.90" y="112.30" width="3.4" height="3.4" fill="#0a0a0a"/>
<rect x="430.70" y="83.80" width="3.4" height="3.4" fill="#0a0a0a"/>
<rect x="441.00" y="62.20" width="3.4" height="3.4" fill="#0a0a0a"/>
<rect x="451.30" y="51.90" width="3.4" height="3.4" fill="#0a0a0a"/>
<rect x="461.70" y="48.60" width="3.4" height="3.4" fill="#0a0a0a"/>
<rect x="472.50" y="44.40" width="3.4" height="3.4" fill="#0a0a0a"/>
<rect x="481.80" y="43.10" width="3.4" height="3.4" fill="#0a0a0a"/>
<path d="M358.90,164.37 L359.90,164.35 L360.90,164.33 L361.90,164.31 L362.90,164.29 L363.90,164.26 L364.90,164.24 L365.90,164.21 L366.90,164.18 L367.90,164.14 L368.90,164.11 L369.90,164.06 L370.90,164.02 L371.90,163.97 L372.90,163.91 L373.90,163.86 L374.90,163.79 L375.90,163.72 L376.90,163.64 L377.90,163.56 L378.90,163.46 L379.90,163.36 L380.90,163.25 L381.90,163.13 L382.90,162.99 L383.90,162.85 L384.90,162.69 L385.90,162.52 L386.90,162.33 L387.90,162.12 L388.90,161.89 L389.90,161.65 L390.90,161.38 L391.90,161.08 L392.90,160.76 L393.90,160.41 L394.90,160.03 L395.90,159.62 L396.90,159.17 L397.90,158.68 L398.90,158.15 L399.90,157.58 L400.90,156.96 L401.90,156.28 L402.90,155.55 L403.90,154.76 L404.90,153.91 L405.90,152.99 L406.90,152.00 L407.90,150.94 L408.90,149.80 L409.90,148.58 L410.90,147.28 L411.90,145.89 L412.90,144.40 L413.90,142.83 L414.90,141.16 L415.90,139.39 L416.90,137.53 L417.90,135.58 L418.90,133.53 L419.90,131.38 L420.90,129.15 L421.90,126.84 L422.90,124.44 L423.90,121.97 L424.90,119.44 L425.90,116.85 L426.90,114.21 L427.90,111.53 L428.90,108.83 L429.90,106.11 L430.90,103.38 L431.90,100.66 L432.90,97.95 L433.90,95.28 L434.90,92.64 L435.90,90.05 L436.90,87.52 L437.90,85.05 L438.90,82.66 L439.90,80.34 L440.90,78.11 L441.90,75.97 L442.90,73.92 L443.90,71.97 L444.90,70.11 L445.90,68.35 L446.90,66.68 L447.90,65.11 L448.90,63.63 L449.90,62.24 L450.90,60.93 L451.90,59.71 L452.90,58.58 L453.90,57.52 L454.90,56.53 L455.90,55.61 L456.90,54.76 L457.90,53.97 L458.90,53.25 L459.90,52.57 L460.90,51.95 L461.90,51.38 L462.90,50.85 L463.90,50.36 L464.90,49.91 L465.90,49.50 L466.90,49.12 L467.90,48.77 L468.90,48.45 L469.90,48.16 L470.90,47.89 L471.90,47.64 L472.90,47.42 L473.90,47.21 L474.90,47.02 L475.90,46.85 L476.90,46.69 L477.90,46.54 L478.90,46.41 L479.90,46.29 L480.90,46.18 L481.90,46.08 L482.90,45.98 L483.90,45.90 L484.90,45.82 L485.90,45.75 L486.90,45.68 L487.90,45.62 L488.90,45.57 L489.90,45.52 L490.90,45.48 L491.90,45.43 L492.90,45.40 L493.90,45.36 L494.90,45.33 L495.90,45.30 L496.90,45.28 L497.90,45.25 L498.90,45.23 L499.90,45.21 L500.90,45.19 L501.90,45.17 L502.90,45.16 L503.90,45.15 L504.90,45.13 L505.90,45.12 L506.90,45.11 L507.90,45.10 L508.90,45.09 L509.90,45.08 L510.90,45.08 L511.90,45.07 L512.90,45.06 L513.90,45.06 L514.90,45.05 L515.90,45.05 L516.90,45.04 L517.90,45.04 L518.90,45.04 L519.90,45.03 L520.90,45.03 L521.90,45.03 L522.90,45.03 L523.90,45.02 L524.90,45.02 L525.90,45.02 L526.90,45.02 L527.90,45.02" fill="none" stroke="#0a0a0a" stroke-width="1.9" stroke-dasharray="5.5 4"/>
<circle cx="382.10" cy="163.10" r="2.0" fill="#0a0a0a"/>
<circle cx="392.20" cy="160.99" r="2.0" fill="#0a0a0a"/>
<circle cx="402.40" cy="155.92" r="2.0" fill="#0a0a0a"/>
<circle cx="413.30" cy="144.20" r="2.0" fill="#0a0a0a"/>
<circle cx="423.30" cy="125.90" r="2.0" fill="#0a0a0a"/>
<circle cx="433.20" cy="97.15" r="2.0" fill="#0a0a0a"/>
<circle cx="443.30" cy="73.13" r="2.0" fill="#0a0a0a"/>
<circle cx="453.20" cy="58.25" r="2.0" fill="#0a0a0a"/>
<circle cx="463.40" cy="50.60" r="2.0" fill="#0a0a0a"/>
<circle cx="474.20" cy="47.15" r="2.0" fill="#0a0a0a"/>
<path d="M358.90,164.48 L359.90,164.44 L360.90,164.40 L361.90,164.36 L362.90,164.31 L363.90,164.26 L364.90,164.20 L365.90,164.14 L366.90,164.08 L367.90,164.01 L368.90,163.93 L369.90,163.85 L370.90,163.76 L371.90,163.67 L372.90,163.57 L373.90,163.46 L374.90,163.34 L375.90,163.22 L376.90,163.08 L377.90,162.93 L378.90,162.78 L379.90,162.61 L380.90,162.42 L381.90,162.23 L382.90,162.02 L383.90,161.79 L384.90,161.55 L385.90,161.28 L386.90,161.00 L387.90,160.70 L388.90,160.37 L389.90,160.02 L390.90,159.65 L391.90,159.25 L392.90,158.82 L393.90,158.36 L394.90,157.87 L395.90,157.34 L396.90,156.77 L397.90,156.17 L398.90,155.53 L399.90,154.85 L400.90,154.11 L401.90,153.34 L402.90,152.51 L403.90,151.63 L404.90,150.70 L405.90,149.71 L406.90,148.67 L407.90,147.56 L408.90,146.39 L409.90,145.16 L410.90,143.86 L411.90,142.50 L412.90,141.07 L413.90,139.58 L414.90,138.01 L415.90,136.38 L416.90,134.68 L417.90,132.91 L418.90,131.08 L419.90,129.19 L420.90,127.24 L421.90,125.23 L422.90,123.17 L423.90,121.06 L424.90,118.90 L425.90,116.70 L426.90,114.47 L427.90,112.21 L428.90,109.93 L429.90,107.64 L430.90,105.33 L431.90,103.02 L432.90,100.72 L433.90,98.42 L434.90,96.15 L435.90,93.89 L436.90,91.67 L437.90,89.48 L438.90,87.33 L439.90,85.23 L440.90,83.18 L441.90,81.19 L442.90,79.25 L443.90,77.37 L444.90,75.55 L445.90,73.80 L446.90,72.12 L447.90,70.50 L448.90,68.95 L449.90,67.47 L450.90,66.05 L451.90,64.71 L452.90,63.42 L453.90,62.21 L454.90,61.05 L455.90,59.96 L456.90,58.93 L457.90,57.95 L458.90,57.03 L459.90,56.16 L460.90,55.35 L461.90,54.58 L462.90,53.86 L463.90,53.18 L464.90,52.55 L465.90,51.96 L466.90,51.40 L467.90,50.88 L468.90,50.40 L469.90,49.94 L470.90,49.52 L471.90,49.13 L472.90,48.76 L473.90,48.41 L474.90,48.09 L475.90,47.80 L476.90,47.52 L477.90,47.26 L478.90,47.02 L479.90,46.80 L480.90,46.59 L481.90,46.39 L482.90,46.21 L483.90,46.05 L484.90,45.89 L485.90,45.75 L486.90,45.61 L487.90,45.49 L488.90,45.37 L489.90,45.27 L490.90,45.17 L491.90,45.08 L492.90,44.99 L493.90,44.91 L494.90,44.84 L495.90,44.77 L496.90,44.71 L497.90,44.65 L498.90,44.59 L499.90,44.54 L500.90,44.49 L501.90,44.45 L502.90,44.41 L503.90,44.37 L504.90,44.34 L505.90,44.31 L506.90,44.28 L507.90,44.25 L508.90,44.22 L509.90,44.20 L510.90,44.18 L511.90,44.16 L512.90,44.14 L513.90,44.12 L514.90,44.11 L515.90,44.09 L516.90,44.08 L517.90,44.06 L518.90,44.05 L519.90,44.04 L520.90,44.03 L521.90,44.02 L522.90,44.01 L523.90,44.00 L524.90,44.00 L525.90,43.99 L526.90,43.98 L527.90,43.98" fill="none" stroke="#ff0a0a" stroke-width="1.9" stroke-dasharray="6.3 3.7"/>
<polygon points="365.30,163.42 370.90,163.42 368.10,158.38" fill="#ff0a0a"/>
<polygon points="375.20,165.44 380.80,165.44 378.00,160.40" fill="#ff0a0a"/>
<polygon points="385.40,163.12 391.00,163.12 388.20,158.08" fill="#ff0a0a"/>
<polygon points="395.50,158.44 401.10,158.44 398.30,153.40" fill="#ff0a0a"/>
<polygon points="407.00,147.81 412.60,147.81 409.80,142.77" fill="#ff0a0a"/>
<polygon points="417.00,131.22 422.60,131.22 419.80,126.18" fill="#ff0a0a"/>
<polygon points="426.60,109.52 432.20,109.52 429.40,104.48" fill="#ff0a0a"/>
<polygon points="436.60,88.80 442.20,88.80 439.40,83.76" fill="#ff0a0a"/>
<polygon points="447.00,70.13 452.60,70.13 449.80,65.09" fill="#ff0a0a"/>
<polygon points="456.80,58.94 462.40,58.94 459.60,53.90" fill="#ff0a0a"/>
<polygon points="466.60,52.69 472.20,52.69 469.40,47.65" fill="#ff0a0a"/>
</svg>
</body></html>
